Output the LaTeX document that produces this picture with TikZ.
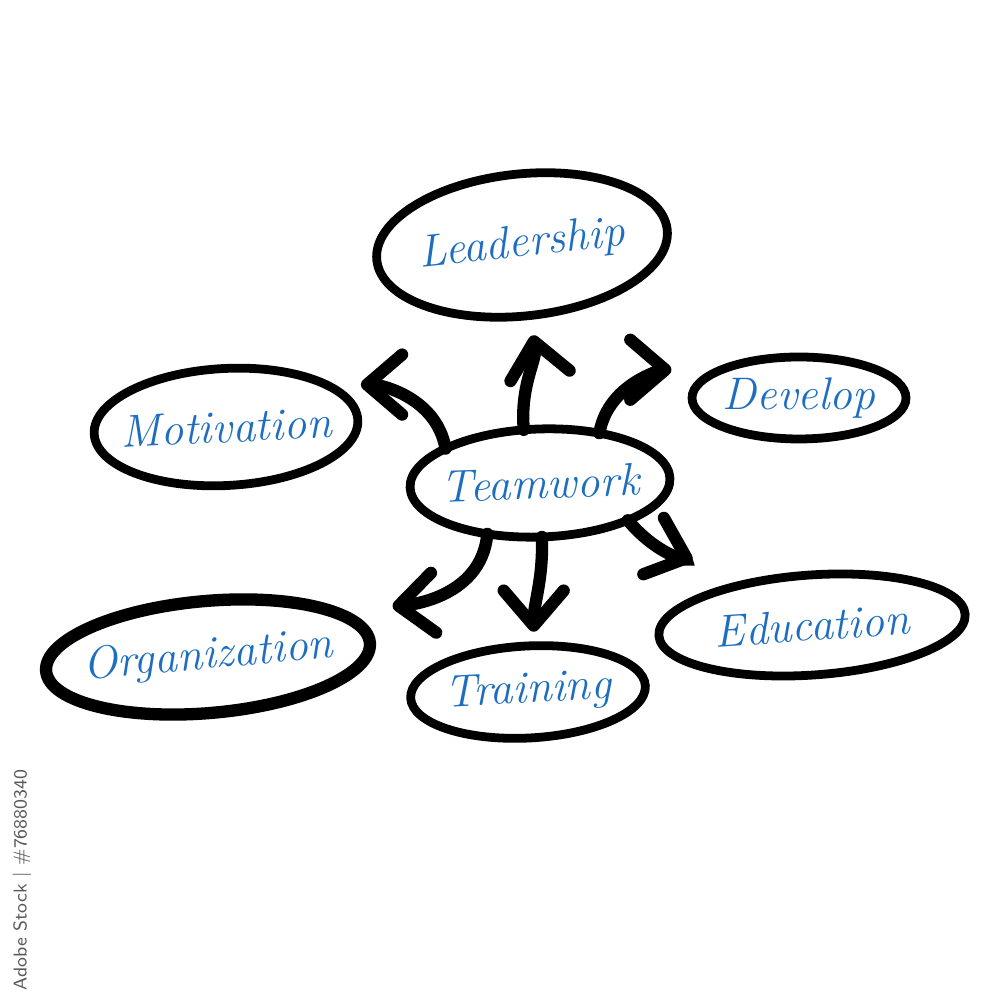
\documentclass[tikz,border=0pt]{standalone}
\usepackage{tikz}
\usetikzlibrary{shapes.geometric, arrows.meta}
\definecolor{inkblue}{HTML}{1E6EC0}

\begin{document}
\begin{tikzpicture}[
    x = 1cm,
    y = 1cm,
    >={Straight Barb[length=3.5mm, width=6mm, round]},
    bubble/.style = {ellipse, draw=black, line width=2.5pt,
              inner xsep=-1cm, inner ysep=0pt, outer sep=0pt,
              text=inkblue, font=\itshape\fontsize{13}{15}\selectfont},
    flow/.style = {->, black, line width=3.5pt, line cap=round},
    ]

\useasboundingbox (0,0) rectangle (10,10);

\node[bubble, minimum width=2.60cm, minimum height=1.08cm, rotate=2] (team) at (5.40,5.17){Teamwork};
\node[bubble, minimum width=2.92cm, minimum height=1.42cm, rotate=6] (lead) at (5.22,7.55){Leadership};
\node[bubble, minimum width=2.64cm, minimum height=1.17cm, rotate=3] (motiv) at (2.26,5.73){Motivation};
\node[bubble, minimum width=2.14cm, minimum height=0.82cm] (devel) at (7.99,6.02){Develop};
\node[bubble, minimum width=3.07cm, minimum height=1.00cm, rotate=4] (educ) at (8.12,3.75){Education};
\node[bubble, minimum width=2.35cm, minimum height=0.92cm, rotate=3] (train) at (5.28,3.08){Training};
\node[bubble, minimum width=3.25cm, minimum height=1.12cm, rotate=5, line width=3.5pt] (organ) at (2.08,3.43){Organization};

\draw [flow, shorten >=0.20cm] (team.105) to [out=95, in=-80] (lead.south);
\draw [flow, shorten >=0.35cm] (team.158) to [out=100, in=0] (motiv.20);
\draw [flow, shorten >=0.50cm] (team.38) to [out=80, in=180] (devel.160);
\draw [flow, shorten >=0.65cm] (team.-25) to [out=-50, in=160] (educ.140);
\draw [flow, shorten >=0.14cm] (team.south) to [out=-88, in=90] (train.80);
\draw [flow, shorten >=0.60cm] (team.-138) to [out=-95, in=5] (organ.15);

\node[rotate=90, text=black!65, inner sep=0pt, font=\sffamily\fontsize{5.3}{6}\selectfont] (stock) at (0.22,1.20){Adobe Stock | \#76880340};

\end{tikzpicture}
\end{document}
